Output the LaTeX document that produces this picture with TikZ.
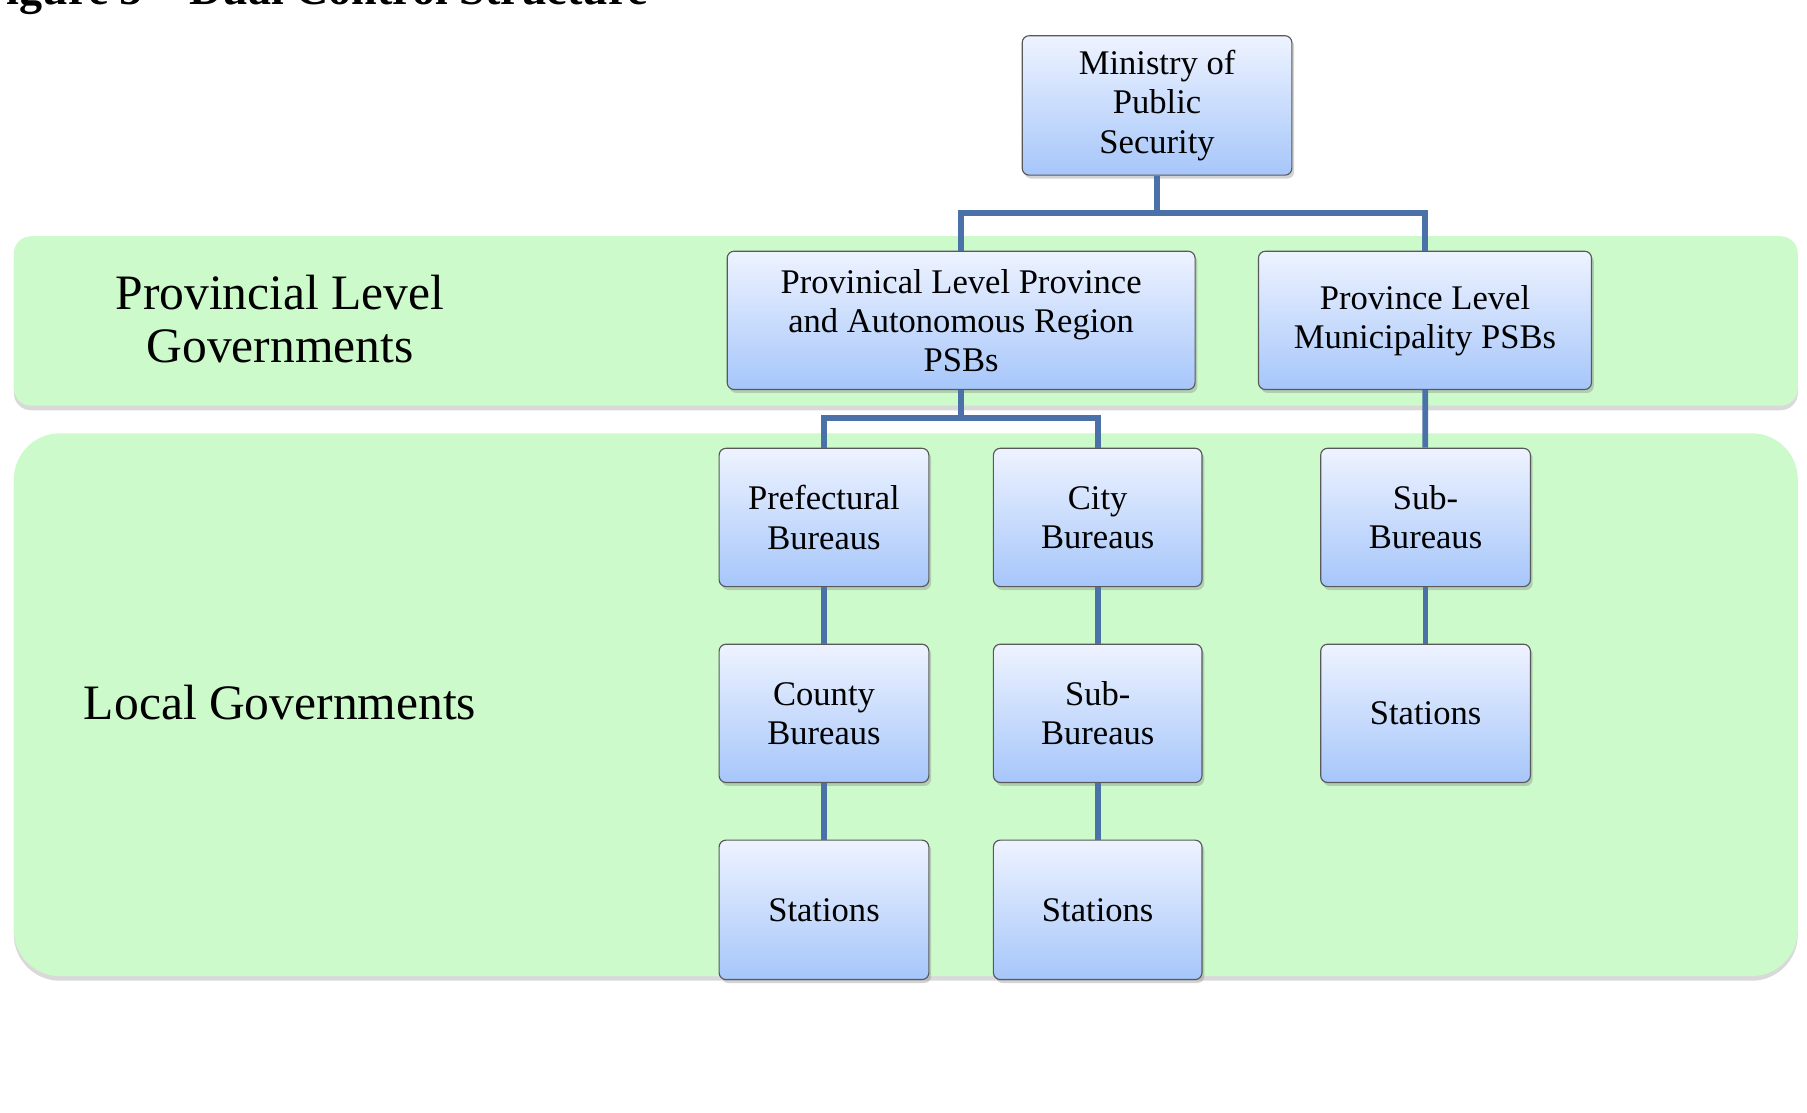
\documentclass[tikz,border=0pt]{standalone}
\usepackage{fontspec}
\setmainfont{Liberation Serif}
\usetikzlibrary{shadows}
\definecolor{band}{HTML}{CCFACA}
\definecolor{lnk}{HTML}{4A72A8}
\definecolor{btop}{HTML}{EEF3FF}
\definecolor{bbot}{HTML}{A6C6FA}
\tikzset{
 box/.style={draw=gray!70!black,line width=1pt,rounded corners=6pt,top color=btop,bottom color=bbot,
   drop shadow={shadow xshift=2pt,shadow yshift=-3pt,opacity=0.35},align=center,font=\fontsize{30}{34}\selectfont},
 bandst/.style={fill=band,draw=none,drop shadow={shadow xshift=0pt,shadow yshift=-4pt,opacity=0.3}},
 lnkst/.style={draw=lnk,line width=5pt},
 lbl/.style={align=center,font=\fontsize{43}{46}\selectfont}
}
\newcommand{\bx}[6]{\node[box,minimum width=#3-#2,minimum height=#5-#4] (#1) at ({(#2+#3)/2},{(#4+#5)/2}) {#6};}
\begin{document}
\begin{tikzpicture}[x=1pt,y=-1pt]
\useasboundingbox (0,0) rectangle (1568,965);
\clip (0,0) rectangle (1568,965);
\node[anchor=base west,font=\bfseries\fontsize{40}{46}\selectfont] (title) at (-22,4) {Figure 5 – Dual Control Structure};
\fill[bandst,rounded corners=15pt] (12,205) rectangle (1560,352);
\fill[bandst,rounded corners=40pt] (12,376) rectangle (1560,847);
\node[lbl] (pl) at (243,277) {Provincial Level\\Governments};
\node[lbl] (lg) at (243,610) {Local Governments};
\bx{min}{887}{1121}{31}{152}{Ministry of\\Public\\Security}
\bx{prov}{631}{1037}{218}{338}{Provinical Level Province\\and Autonomous Region\\PSBs}
\bx{muni}{1092}{1381}{218}{338}{Province Level\\Municipality PSBs}
\bx{pref}{624}{806}{389}{509}{Prefectural\\Bureaus}
\bx{city}{862}{1043}{389}{509}{City\\Bureaus}
\bx{sbr}{1146}{1328}{389}{509}{Sub-\\Bureaus}
\bx{county}{624}{806}{559}{679}{County\\Bureaus}
\bx{sbc}{862}{1043}{559}{679}{Sub-\\Bureaus}
\bx{str}{1146}{1328}{559}{679}{Stations}
\bx{st1}{624}{806}{729}{850}{Stations}
\bx{st2}{862}{1043}{729}{850}{Stations}
\draw[lnkst] (min.south) -- ++(0,32) -| (prov.north);
\draw[lnkst] (min.south) -- ++(0,32) -| (muni.north);
\draw[lnkst] (prov.south) -- ++(0,24) -| (pref.north);
\draw[lnkst] (prov.south) -- ++(0,24) -| (city.north);
\draw[lnkst] (muni) -- (sbr);
\draw[lnkst] (sbr) -- (str);
\draw[lnkst] (pref) -- (county);
\draw[lnkst] (county) -- (st1);
\draw[lnkst] (city) -- (sbc);
\draw[lnkst] (sbc) -- (st2);
\end{tikzpicture}
\end{document}
